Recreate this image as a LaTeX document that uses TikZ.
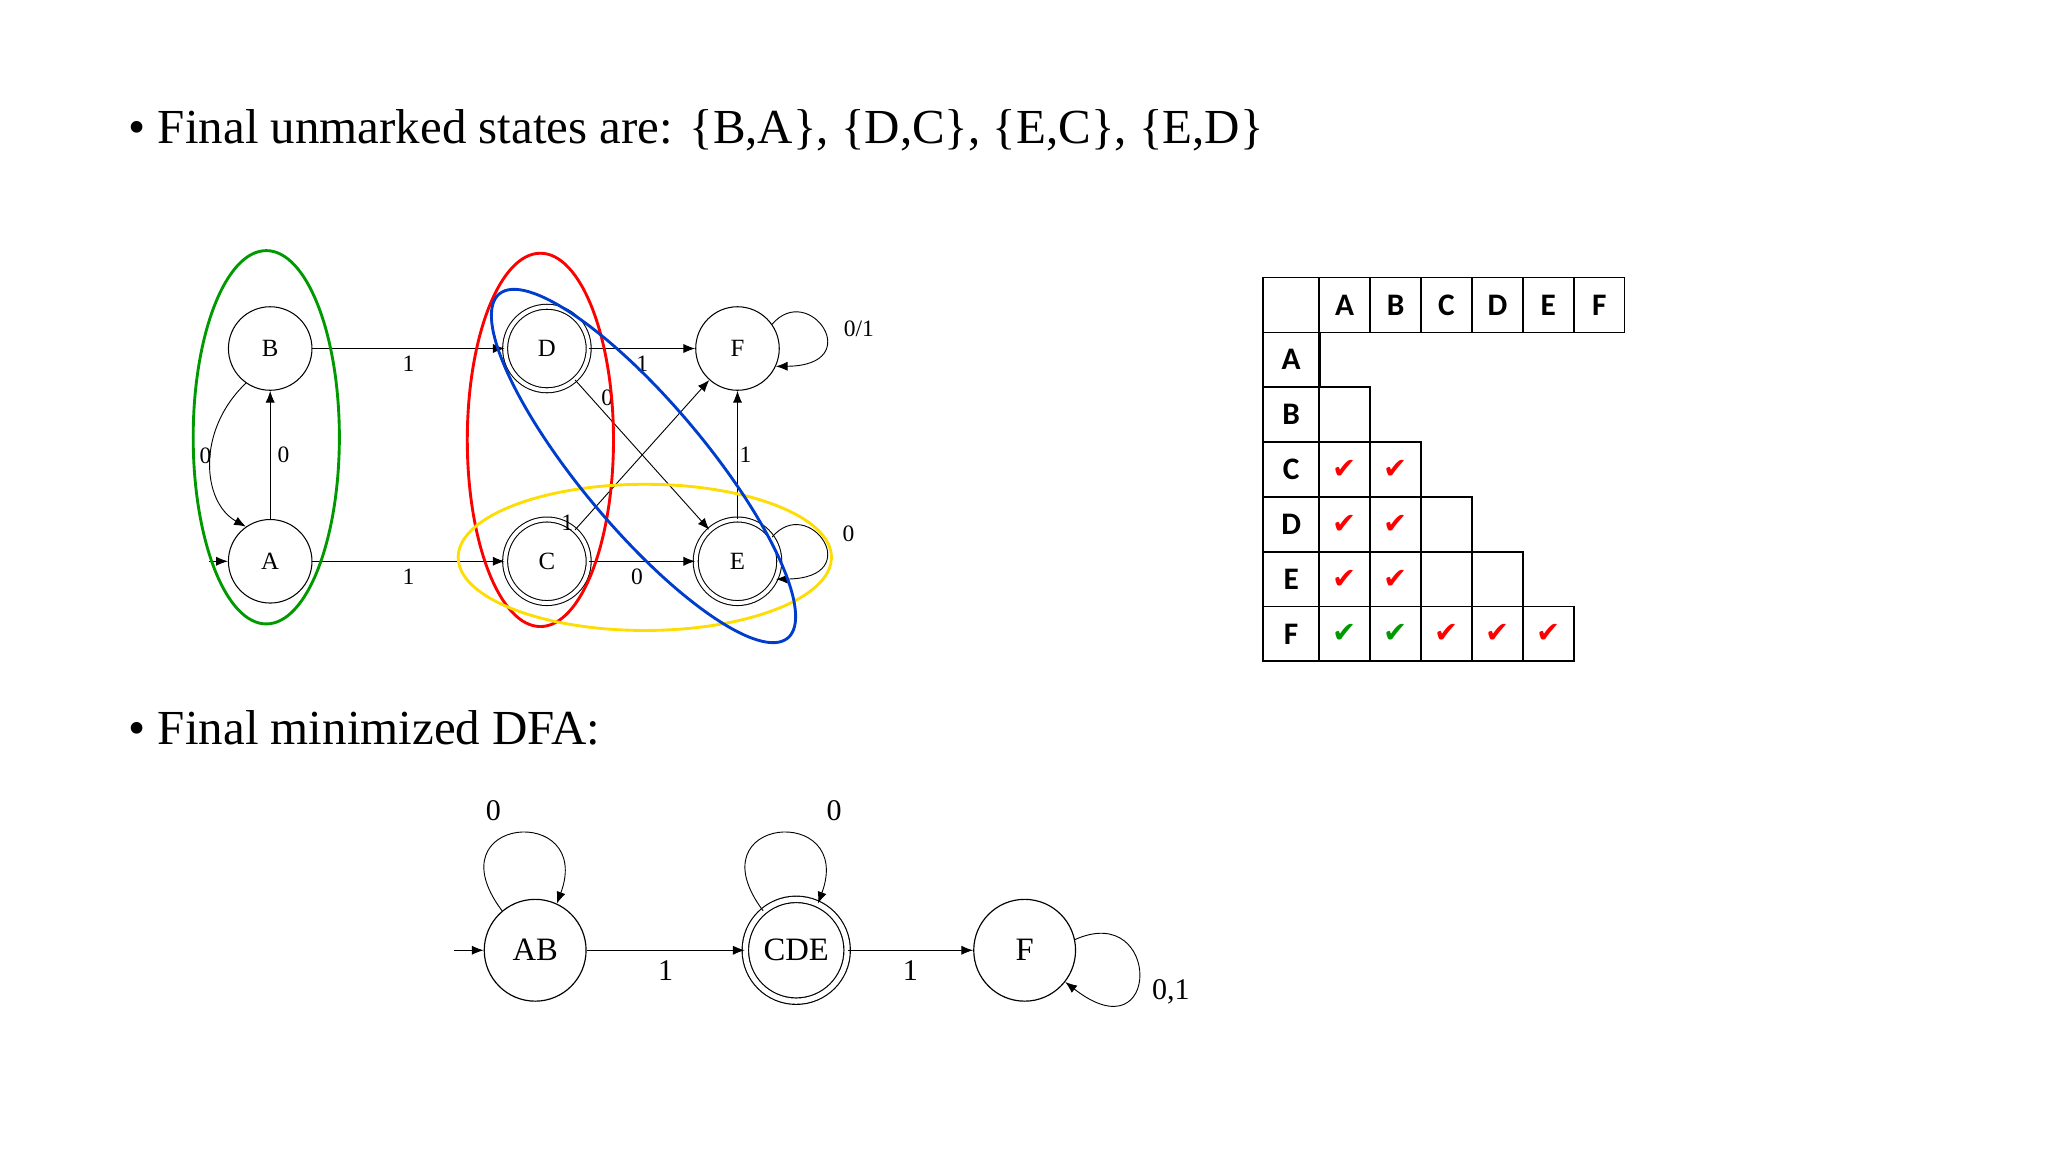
\documentclass[tikz,border=0pt]{standalone}
\usepackage{fontspec}
\setmainfont{Liberation Serif}
\newfontfamily\tabfont{Carlito}
\newfontfamily\symfont{DejaVu Sans}
\usetikzlibrary{arrows.meta}
\begin{document}
\begin{tikzpicture}[x=1pt,y=-1pt,
  st/.style={circle,draw,line width=0.8pt,minimum size=64pt,inner sep=0pt,font=\fontsize{19}{19}\selectfont},
  acc/.style={st,double,double distance=3pt},
  st2/.style={circle,draw,line width=0.9pt,minimum size=78pt,inner sep=0pt,font=\fontsize{25}{25}\selectfont},
  acc2/.style={st2,double,double distance=4pt},
  ed/.style={line width=0.7pt,-{Latex[length=9pt,width=7pt]}},
  lb/.style={font=\fontsize{18}{18}\selectfont},
  lb2/.style={font=\fontsize{23}{23}\selectfont},
  hl/.style={line width=2.2pt},
  cell/.style={draw,line width=1.3pt,minimum width=39pt,minimum height=42pt,inner sep=0pt,anchor=north west,font=\tabfont\bfseries\fontsize{24}{24}\selectfont},
  hcell/.style={cell,minimum width=43pt},
  tk/.style={font=\symfont\fontsize{22}{22}\selectfont}]
\useasboundingbox (0,0) rectangle (1569,883);
% bullets
\node[anchor=base west,font=\fontsize{37.5}{37.5}\selectfont] (t1) at (95,110) {\textbullet\ Final unmarked states are: \{B,A\}, \{D,C\}, \{E,C\}, \{E,D\}};
\node[anchor=base west,font=\fontsize{37.5}{37.5}\selectfont] (t2) at (95,570) {\textbullet\ Final minimized DFA:};
% DFA 1
\node[st] (B) at (207,267) {B};
\node[st] (A) at (207,430) {A};
\node[acc] (D) at (419,267) {D};
\node[acc] (C) at (419,430) {C};
\node[st] (F) at (565,267) {F};
\node[acc] (E) at (565,430) {E};
\coordinate (i1) at (160,430);
\draw[ed] (i1) -- (A);
\draw[ed] (B) -- node[lb,below=2pt]{1} (D);
\draw[ed] (A) -- node[lb,below=2pt]{1} (C);
\draw[ed] (A) -- node[lb,right=2pt]{0} (B);
\draw[ed] (B.235) .. controls (150,330) and (155,385) .. node[lb,pos=0.45,left=-4pt]{0} (A.125);
\draw[ed] (D) -- node[lb,below=2pt]{1} (F);
\draw[ed] (D) -- node[lb,pos=0.12,right=4pt]{0} (E);
\draw[ed] (C) -- node[lb,pos=0.05,left=3pt]{1} (F);
\draw[ed] (C) -- node[lb,below=2pt,pos=0.45]{0} (E);
\draw[ed] (E) -- node[lb,right=-2pt,pos=0.5]{1} (F);
\draw[ed] (F.35) .. controls (620,215) and (665,280) .. (F.-25);
\node[lb] (l1) at (658,252) {0/1};
\draw[ed] (E.35) .. controls (620,378) and (665,443) .. (E.-25);
\node[lb] (l2) at (650,409) {0};
% highlight ellipses
\draw[hl,green!60!black] (204,335) ellipse [x radius=56,y radius=143];
\draw[hl,red] (414,337) ellipse [x radius=56,y radius=143];
\draw[hl,yellow!80!orange] (494,427) ellipse [x radius=143,y radius=56];
\draw[hl,blue!70!cyan!80!black] (493,357) [rotate around={-50:(493,357)}] ellipse [x radius=172,y radius=48];
% table
\node[hcell] (c00) at (967,212) {};
\foreach \l [count=\i] in {A,B,C,D,E,F}{
  \node[cell] (h\i) at ({1010+39*(\i-1)},212) {\l};
  \node[hcell] (r\i) at (967,{212+42*\i}) {\l};
}
\foreach \r in {2,...,6}{
  \pgfmathtruncatemacro{\m}{\r-1}
  \foreach \c in {1,...,\m}{
    \node[cell] (x\r\c) at ({1010+39*(\c-1)},{212+42*\r}) {};
  }
}
\draw[line width=1.3pt] (r1.north east) -- (r1.south east);
\foreach \r in {3,4,5}{
  \node[tk,red] at (x\r1) {✔};
  \node[tk,red] at (x\r2) {✔};
}
\node[tk,green!60!black] at (x61) {✔};
\node[tk,green!60!black] at (x62) {✔};
\node[tk,red] at (x63) {✔};
\node[tk,red] at (x64) {✔};
\node[tk,red] at (x65) {✔};
% DFA 2
\node[st2] (AB) at (410,728) {AB};
\node[acc2] (CDE) at (610,728) {CDE};
\node[st2] (F2) at (785,728) {F};
\coordinate (i2) at (348,728);
\draw[ed] (i2) -- (AB);
\draw[ed] (AB) -- node[lb2,below=4pt]{1} (CDE);
\draw[ed] (CDE) -- node[lb2,below=4pt]{1} (F2);
\draw[ed] (AB.130) .. controls (330,625) and (455,615) .. (AB.65);
\node[lb2] (la) at (378,621) {0};
\draw[ed] (CDE.130) .. controls (530,625) and (655,615) .. (CDE.65);
\node[lb2] (lc) at (639,621) {0};
\draw[ed] (F2.12) .. controls (890,690) and (890,810) .. (F2.-38);
\node[lb2] (lf) at (897,760) {0,1};
\end{tikzpicture}
\end{document}
